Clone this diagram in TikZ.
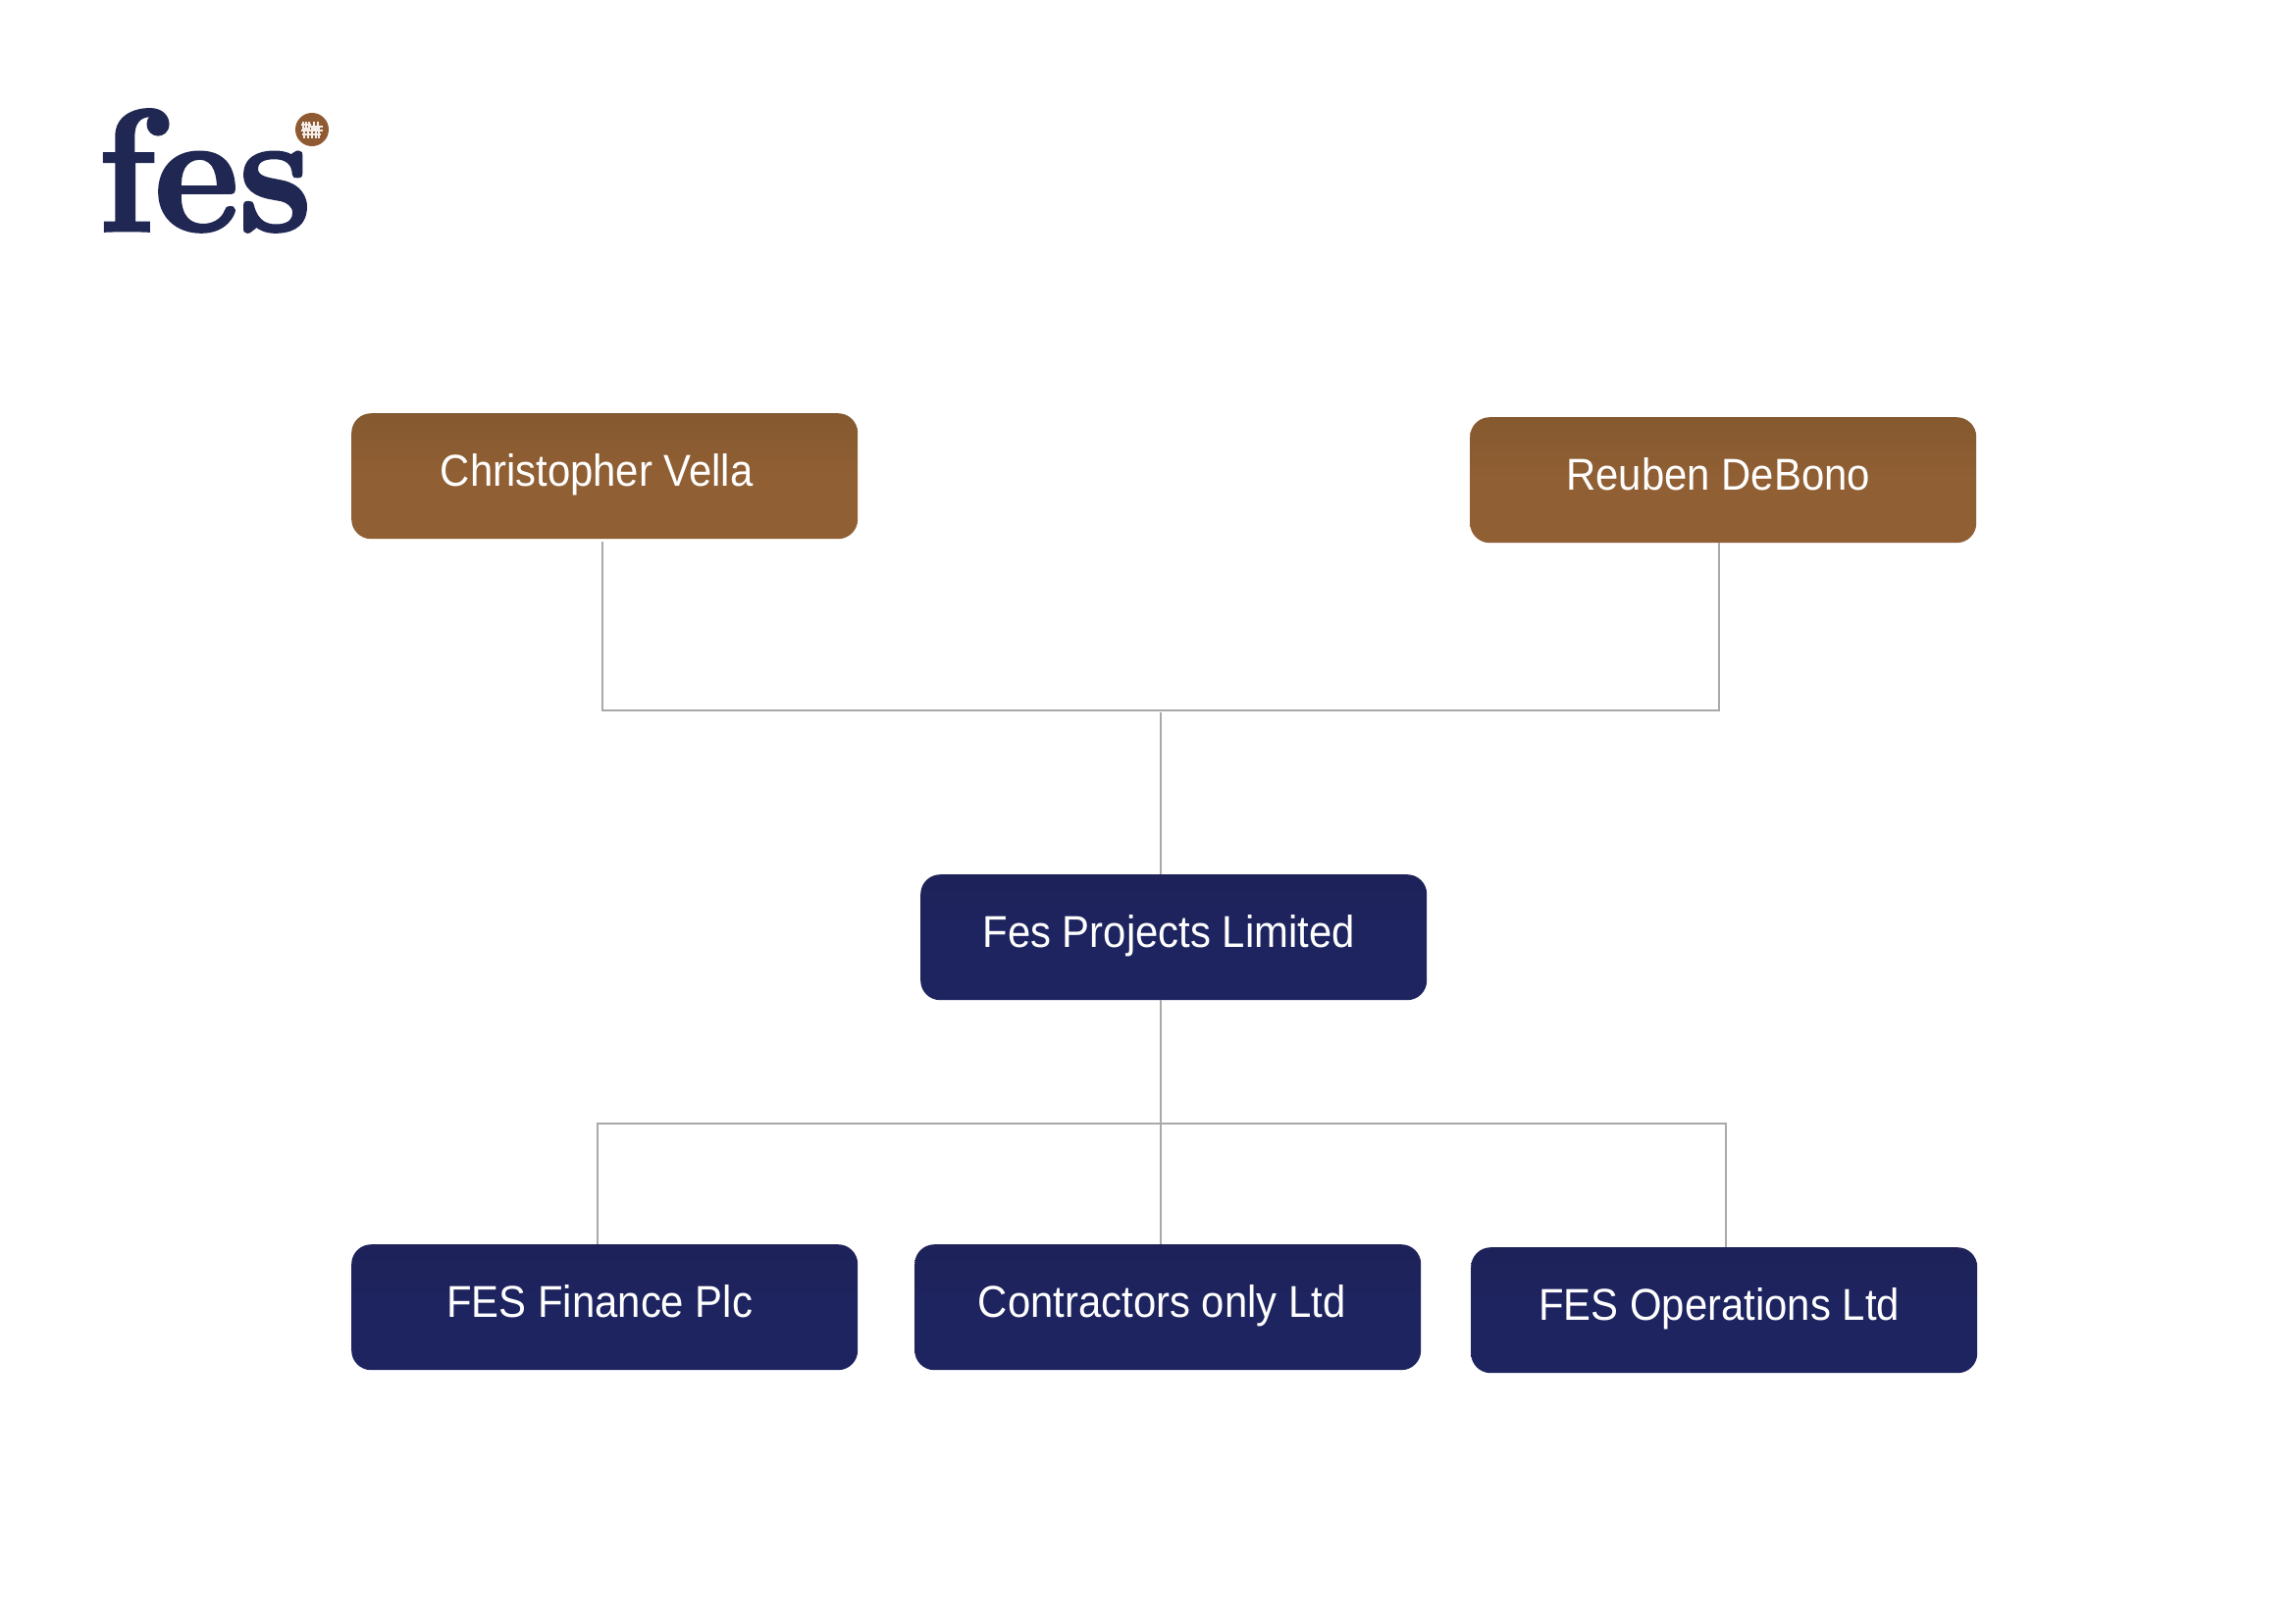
\documentclass[tikz,border=0pt]{standalone}
\usepackage{fontspec}
\setsansfont{Liberation Sans}[FakeStretch=0.92]
\newfontfamily\logofont{Latin Modern Roman}[BoldFeatures={FakeBold=2,FakeStretch=0.95}]
\definecolor{navy}{HTML}{1E2460}
\definecolor{navytop}{HTML}{1E2259}
\definecolor{brown1}{HTML}{915F34}
\definecolor{browntop}{HTML}{85592F}
\definecolor{logonavy}{HTML}{1F2752}
\definecolor{medal}{HTML}{8F5A32}
\definecolor{rule}{HTML}{A9A9A9}
\tikzset{
  x=1pt,y=-1pt,
  box/.style={minimum width=516pt,minimum height=128pt,rounded corners=20pt,inner sep=0pt,anchor=north west},
  brownbox/.style={box,top color=browntop,bottom color=brown1,middle color=brown1},
  navybox/.style={box,top color=navytop,bottom color=navy,middle color=navy},
  lbl/.style={text=white,font=\sffamily\fontsize{45.5}{50}\selectfont,inner sep=0pt,text height=32pt,text depth=0pt},
  conn/.style={draw=rule,line width=2pt},
  medalline/.style={draw=white!90!medal,line width=1.1pt}
}
\begin{document}
\begin{tikzpicture}
\useasboundingbox[fill=white] (0,0) rectangle (2339,1654);
% logo
\node[text=logonavy,inner sep=0pt,anchor=base west,font=\logofont\bfseries\fontsize{176}{176}\selectfont] (logo) at (100,235) {fes};
\node[circle,fill=medal,minimum size=34pt,inner sep=0pt] (medallion) at (318,132) {};
\foreach \x in {309,312,315}{\draw[medalline] (\x,124) -- (\x,134);}
\foreach \x in {310,314,318,322,325}{\draw[medalline] (\x,130) -- (\x,141);}
\foreach \x in {320,324}{\draw[medalline] (\x,124) -- (\x,132);}
\draw[medalline] (307,127) -- (317,127);
\draw[medalline] (307,133) -- (329,133);
\draw[medalline] (316,129) -- (329,129);
\draw[medalline] (308,137) -- (327,137);
% boxes
\node[brownbox,label={[lbl,xshift=-8pt,yshift=6pt]center:Christopher Vella}] (cv) at (358,421) {};
\node[brownbox,label={[lbl,xshift=-5pt,yshift=6pt]center:Reuben DeBono}] (rd) at (1498,425) {};
\node[navybox,label={[lbl,xshift=-5pt,yshift=6pt]center:Fes Projects Limited}] (fp) at (938,891) {};
\node[navybox,label={[lbl,xshift=-5pt,yshift=6pt]center:FES Finance Plc}] (ff) at (358,1268) {};
\node[navybox,label={[lbl,xshift=-6pt,yshift=6pt]center:Contractors only Ltd}] (co) at (932,1268) {};
\node[navybox,label={[lbl,xshift=-5pt,yshift=6pt]center:FES Operations Ltd}] (fo) at (1499,1271) {};
% junctions
\coordinate (topl) at (614,724);
\coordinate (topr) at (1752,724);
\coordinate (topm) at (1183,726);
\coordinate (botl) at (609,1145);
\coordinate (botr) at (1759,1145);
\coordinate (botm) at (1183,1145);
% connectors
\draw[conn] (cv.south -| topl) ++(0,3) -- (topl) -- (topr) -- (rd.south -| topr);
\draw[conn] (topm) -- (fp.north -| topm);
\draw[conn] (fp.south -| botm) -- (co.north -| botm);
\draw[conn] (ff.north -| botl) -- (botl) -- (botr) -- (fo.north -| botr);
\end{tikzpicture}
\end{document}
